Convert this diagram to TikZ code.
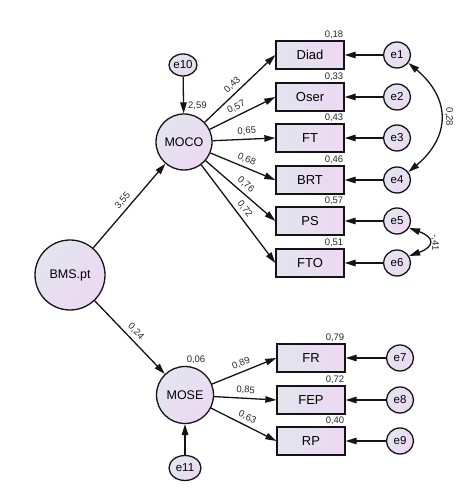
\documentclass[tikz,border=0pt]{standalone}
\usepackage{fontspec}
\setmainfont{Liberation Sans}
\usepackage{tikz}
\usetikzlibrary{
arrows.meta,
shapes.geometric
}
\definecolor{semgray}{RGB}{226,229,238}
\definecolor{semlav}{RGB}{238,216,243}
\definecolor{semline}{RGB}{20,20,20}
\definecolor{semtext}{RGB}{40,40,40}

\begin{document}
\begin{tikzpicture}[
  x=1pt, y=1pt,
  >={Triangle[length=11pt,width=6.5pt]},
  latent/.style={circle, draw=semline, line width=1.3pt, left color=semgray, right color=semlav, shading angle=45, inner sep=0pt, font=\fontsize{12.5}{13}\selectfont},
  obs/.style={rectangle, draw=semline, line width=1.3pt, left color=semgray, right color=semlav, minimum width=68pt, minimum height=28pt, inner sep=0pt, font=\fontsize{13}{14}\selectfont},
  err/.style={ellipse, draw=semline, line width=1.3pt, left color=semgray, right color=semlav, shading angle=45, minimum width=27pt, minimum height=26pt, inner sep=0pt, font=\fontsize{11.5}{12}\selectfont},
  reg/.style={->, line width=1.3pt, semline},
  cov/.style={<->, line width=1.3pt, semline},
  coef/.style={font=\fontsize{9.5}{10}\selectfont, text=semtext, inner sep=1pt},
  rsq/.style={font=\fontsize{9.5}{10}\selectfont, text=semtext, inner sep=1.2pt, anchor=south east}
]
\useasboundingbox (0,0) rectangle (474,502);

% Latent variables
\node[latent, minimum size=70pt] (bms) at (70,227) {BMS.pt};
\node[latent, minimum size=56pt] (moco) at (184,360) {MOCO};
\node[latent, minimum size=57pt] (mose) at (185,107) {MOSE};
\node[err, minimum width=28pt, minimum height=22pt] (e10) at (183,437) {e10};
\node[err, minimum width=32pt, minimum height=25pt] (e11) at (185,34) {e11};

% Indicators of MOCO
\node[obs] (diad) at (310,447) {Diad};
\node[obs] (oser) at (310,405) {Oser};
\node[obs] (ft) at (310,364) {FT};
\node[obs] (brt) at (310,322) {BRT};
\node[obs] (ps) at (310,281) {PS};
\node[obs] (fto) at (310,239) {FTO};

% Indicators of MOSE
\node[obs] (fr) at (311,144) {FR};
\node[obs] (fep) at (311,102) {FEP};
\node[obs] (rp) at (311,61) {RP};

% Error terms
\node[err] (e1) at (397,447) {e1};
\node[err] (e2) at (397,405) {e2};
\node[err] (e3) at (397,364) {e3};
\node[err] (e4) at (397,322) {e4};
\node[err] (e5) at (397,281) {e5};
\node[err] (e6) at (397,239) {e6};
\node[err] (e7) at (400,144) {e7};
\node[err] (e8) at (400,102) {e8};
\node[err] (e9) at (400,61) {e9};

% Structural paths
\draw[reg] (bms) -- (moco) node[coef, sloped, above=3pt, midway] {3,55};
\draw[reg] (bms) -- (mose) node[coef, sloped, above=3pt, midway] {0,24};
\draw[reg] (e10) -- (moco);
\draw[reg] (e11) -- (mose);
\node[coef, anchor=west] (r2moco) at (187,396) {2,59};
\node[coef, anchor=south] (r2mose) at (196,137) {0,06};

% Loadings
\draw[reg] (moco) -- (diad.west) node[coef, sloped, above=2.5pt, pos=0.47] {0,43};
\draw[reg] (moco) -- (oser.west) node[coef, sloped, above=2.5pt, pos=0.46] {0,57};
\draw[reg] (moco) -- (ft.west) node[coef, sloped, above=2.5pt, pos=0.55] {0,65};
\draw[reg] (moco) -- (brt.west) node[coef, sloped, above=2.5pt, pos=0.51] {0,68};
\draw[reg] (moco) -- (ps.west) node[coef, sloped, above=2.5pt, pos=0.5] {0,76};
\draw[reg] (moco) -- (fto.west) node[coef, sloped, above=2.5pt, pos=0.5] {0,72};
\draw[reg] (mose) -- (fr.west) node[coef, sloped, above=2.5pt, pos=0.5] {0,89};
\draw[reg] (mose) -- (fep.west) node[coef, sloped, above=2.5pt, pos=0.5] {0,85};
\draw[reg] (mose) -- (rp.west) node[coef, sloped, above=2.5pt, pos=0.5] {0,63};

% Squared multiple correlations
\node[rsq] at (diad.north east) {0,18};
\node[rsq] at (oser.north east) {0,33};
\node[rsq] at (ft.north east) {0,43};
\node[rsq] at (brt.north east) {0,46};
\node[rsq] at (ps.north east) {0,57};
\node[rsq] at (fto.north east) {0,51};
\node[rsq] at (fr.north east) {0,79};
\node[rsq] at (fep.north east) {0,72};
\node[rsq] at (rp.north east) {0,40};

% Error paths
\foreach \e/\b in {e1/diad, e2/oser, e3/ft, e4/brt, e5/ps, e6/fto, e7/fr, e8/fep, e9/rp}
  \draw[reg] (\e) -- (\b.east);

% Covariances
\draw[cov] (e1.-35) to[out=-40, in=40, looseness=1.3] (e4.35);
\node[coef, rotate=-90] at (449,385) {0,28};
\draw[cov] (e5.-30) to[out=-20, in=20, looseness=2.5] (e6.30);
\node[coef, rotate=-90] at (435,259) {-,41};

\end{tikzpicture}
\end{document}
